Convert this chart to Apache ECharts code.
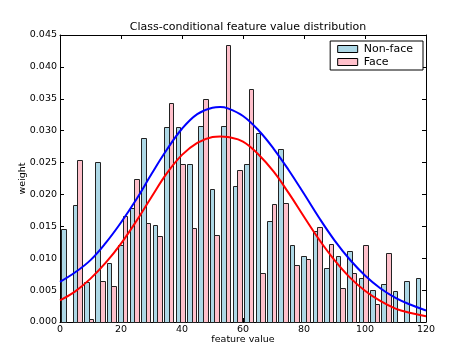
<!DOCTYPE html>
<html>
<head>
<meta charset="utf-8">
<script src="https://cdn.jsdelivr.net/npm/echarts@6/dist/echarts.min.js"></script>
<style>html,body{margin:0;padding:0;background:#fff}#c{width:474px;height:357px}</style>
</head>
<body>
<div id="c"></div>
<script>
// ---- data ----
const X_MIN = 0, X_MAX = 120, BIN_COUNT = 32;
const xTicks = [0, 20, 40, 60, 80, 100, 120];
const yTicks = [0, 0.005, 0.01, 0.015, 0.02, 0.025, 0.03, 0.035, 0.04, 0.045];
const seriesNames = ['Non-face', 'Face'];
const nonFace = [0.0146, 0.0183, 0.0062, 0.0251, 0.0093, 0.0120, 0.0178, 0.0289,
                 0.0152, 0.0306, 0.0306, 0.0247, 0.0308, 0.0208, 0.0308, 0.0213,
                 0.0248, 0.0296, 0.0159, 0.0272, 0.0121, 0.0104, 0.0142, 0.0085,
                 0.0104, 0.0112, 0.0069, 0.0050, 0.0060, 0.0048, 0.0064, 0.0069];
const face =    [0.0000, 0.0254, 0.0005, 0.0065, 0.0056, 0.0166, 0.0225, 0.0156,
                 0.0135, 0.0344, 0.0247, 0.0148, 0.0349, 0.0136, 0.0435, 0.0239,
                 0.0366, 0.0077, 0.0185, 0.0186, 0.0089, 0.0098, 0.0149, 0.0123,
                 0.0054, 0.0077, 0.0120, 0.0029, 0.0108, 0.0000, 0.0000, 0.0000];
const curveX =        [0, 5, 10, 15, 20, 25, 30, 35, 40, 45, 50, 52.5, 55, 60, 65, 70, 75, 80, 85, 90, 95, 100, 105, 110, 115, 120];
const nonFaceCurve =  [0.0063, 0.0078, 0.0097, 0.0124, 0.0156, 0.0192, 0.0232, 0.0270, 0.0303, 0.0326, 0.0336, 0.0337, 0.0335, 0.0323, 0.0301, 0.0272, 0.0238, 0.0201, 0.0163, 0.0128, 0.0098, 0.0073, 0.0053, 0.0038, 0.0027, 0.0018];
const faceCurve =     [0.0034, 0.0048, 0.0068, 0.0093, 0.0123, 0.0158, 0.0196, 0.0233, 0.0262, 0.0281, 0.0290, 0.0291, 0.0290, 0.0283, 0.0263, 0.0236, 0.0202, 0.0165, 0.0129, 0.0097, 0.0070, 0.0049, 0.0033, 0.0021, 0.0014, 0.0009];

// ---- chart ----
const FONT = 'DejaVu Sans';
const chart = echarts.init(document.getElementById('c'), null, {renderer: 'canvas'});
const binW = (X_MAX - X_MIN) / BIN_COUNT;

function barRenderer(offset, fill) {
  return function (params, api) {
    const i = api.value(0), v = api.value(1);
    if (!(v > 0)) return null;
    const left = X_MIN + i * binW + offset * binW;
    const right = left + 0.4 * binW;
    const p0 = api.coord([left, v]);
    const p1 = api.coord([right, 0]);
    return {
      type: 'rect',
      shape: {x: Math.round(p0[0]) + 0.5, y: Math.round(p0[1]) + 0.5,
              width: Math.round(p1[0]) - Math.round(p0[0]), height: Math.round(p1[1]) - Math.round(p0[1])},
      style: {fill: fill, stroke: '#222', lineWidth: 1}
    };
  };
}

const axisCommon = {
  axisLine: {show: true, onZero: false, lineStyle: {color: '#000', width: 1}},
  axisTick: {show: true, inside: true, length: 4, lineStyle: {color: '#000'}},
  splitLine: {show: false}
};

const option = {
  animation: false,
  backgroundColor: '#fff',
  title: {
    text: 'Class-conditional feature value distribution',
    left: 243, textAlign: 'center', top: 17,
    textStyle: {fontFamily: FONT, fontSize: 11, fontWeight: 'normal', color: '#000'}
  },
  legend: {
    orient: 'vertical', right: 51, top: 41,
    backgroundColor: '#fff', borderColor: '#000', borderWidth: 1, borderRadius: 0,
    padding: [2, 10, 2, 7], itemGap: 1, itemWidth: 20, itemHeight: 7,
    textStyle: {fontFamily: FONT, fontSize: 11, color: '#000', lineHeight: 12, padding: [0, 0, 0, 1]},
    data: [
      {name: seriesNames[0], icon: 'rect', itemStyle: {color: '#add8e6', borderColor: '#000', borderWidth: 1}},
      {name: seriesNames[1], icon: 'rect', itemStyle: {color: '#ffc0cb', borderColor: '#000', borderWidth: 1}}
    ]
  },
  grid: {left: 60, right: 48, top: 35, bottom: 35},
  xAxis: [
    Object.assign({
      type: 'value', min: X_MIN, max: X_MAX, interval: xTicks[1] - xTicks[0], position: 'bottom',
      name: 'feature value', nameLocation: 'middle', nameGap: 13, nameMoveOverlap: false,
      nameTextStyle: {fontFamily: FONT, fontSize: 9.5, color: '#000'},
      axisLabel: {fontFamily: FONT, fontSize: 9.5, color: '#000', margin: 3}
    }, axisCommon),
    Object.assign({
      type: 'value', min: X_MIN, max: X_MAX, interval: xTicks[1] - xTicks[0], position: 'top',
      axisLabel: {show: false}
    }, axisCommon)
  ],
  yAxis: [
    Object.assign({
      type: 'value', min: yTicks[0], max: yTicks[yTicks.length - 1], interval: yTicks[1] - yTicks[0], position: 'left',
      name: 'weight', nameLocation: 'middle', nameGap: 32, nameMoveOverlap: false,
      nameTextStyle: {fontFamily: FONT, fontSize: 9.5, color: '#000'},
      axisLabel: {fontFamily: FONT, fontSize: 9.5, color: '#000', margin: 3, formatter: v => v.toFixed(3)}
    }, axisCommon),
    Object.assign({
      type: 'value', min: yTicks[0], max: yTicks[yTicks.length - 1], interval: yTicks[1] - yTicks[0], position: 'right',
      axisLabel: {show: false}
    }, axisCommon)
  ],
  series: [
    {
      name: seriesNames[0], type: 'custom', xAxisIndex: 0, yAxisIndex: 0,
      renderItem: barRenderer(0.1, '#add8e6'),
      itemStyle: {color: '#add8e6', borderColor: '#000', borderWidth: 1},
      encode: {x: 0, y: 1},
      data: nonFace.map((v, i) => [i, v]), z: 2
    },
    {
      name: seriesNames[1], type: 'custom', xAxisIndex: 0, yAxisIndex: 0,
      renderItem: barRenderer(0.5, '#ffc0cb'),
      itemStyle: {color: '#ffc0cb', borderColor: '#000', borderWidth: 1},
      encode: {x: 0, y: 1},
      data: face.map((v, i) => [i, v]), z: 2
    },
    {
      name: 'nonFaceFit', type: 'line', smooth: 0.4, showSymbol: false, z: 3,
      lineStyle: {color: '#0000ff', width: 2}, itemStyle: {color: '#0000ff'},
      data: curveX.map((x, i) => [x, nonFaceCurve[i]])
    },
    {
      name: 'faceFit', type: 'line', smooth: 0.4, showSymbol: false, z: 3,
      lineStyle: {color: '#ff0000', width: 2}, itemStyle: {color: '#ff0000'},
      data: curveX.map((x, i) => [x, faceCurve[i]])
    }
  ]
};
chart.setOption(option);
</script>
</body>
</html>
